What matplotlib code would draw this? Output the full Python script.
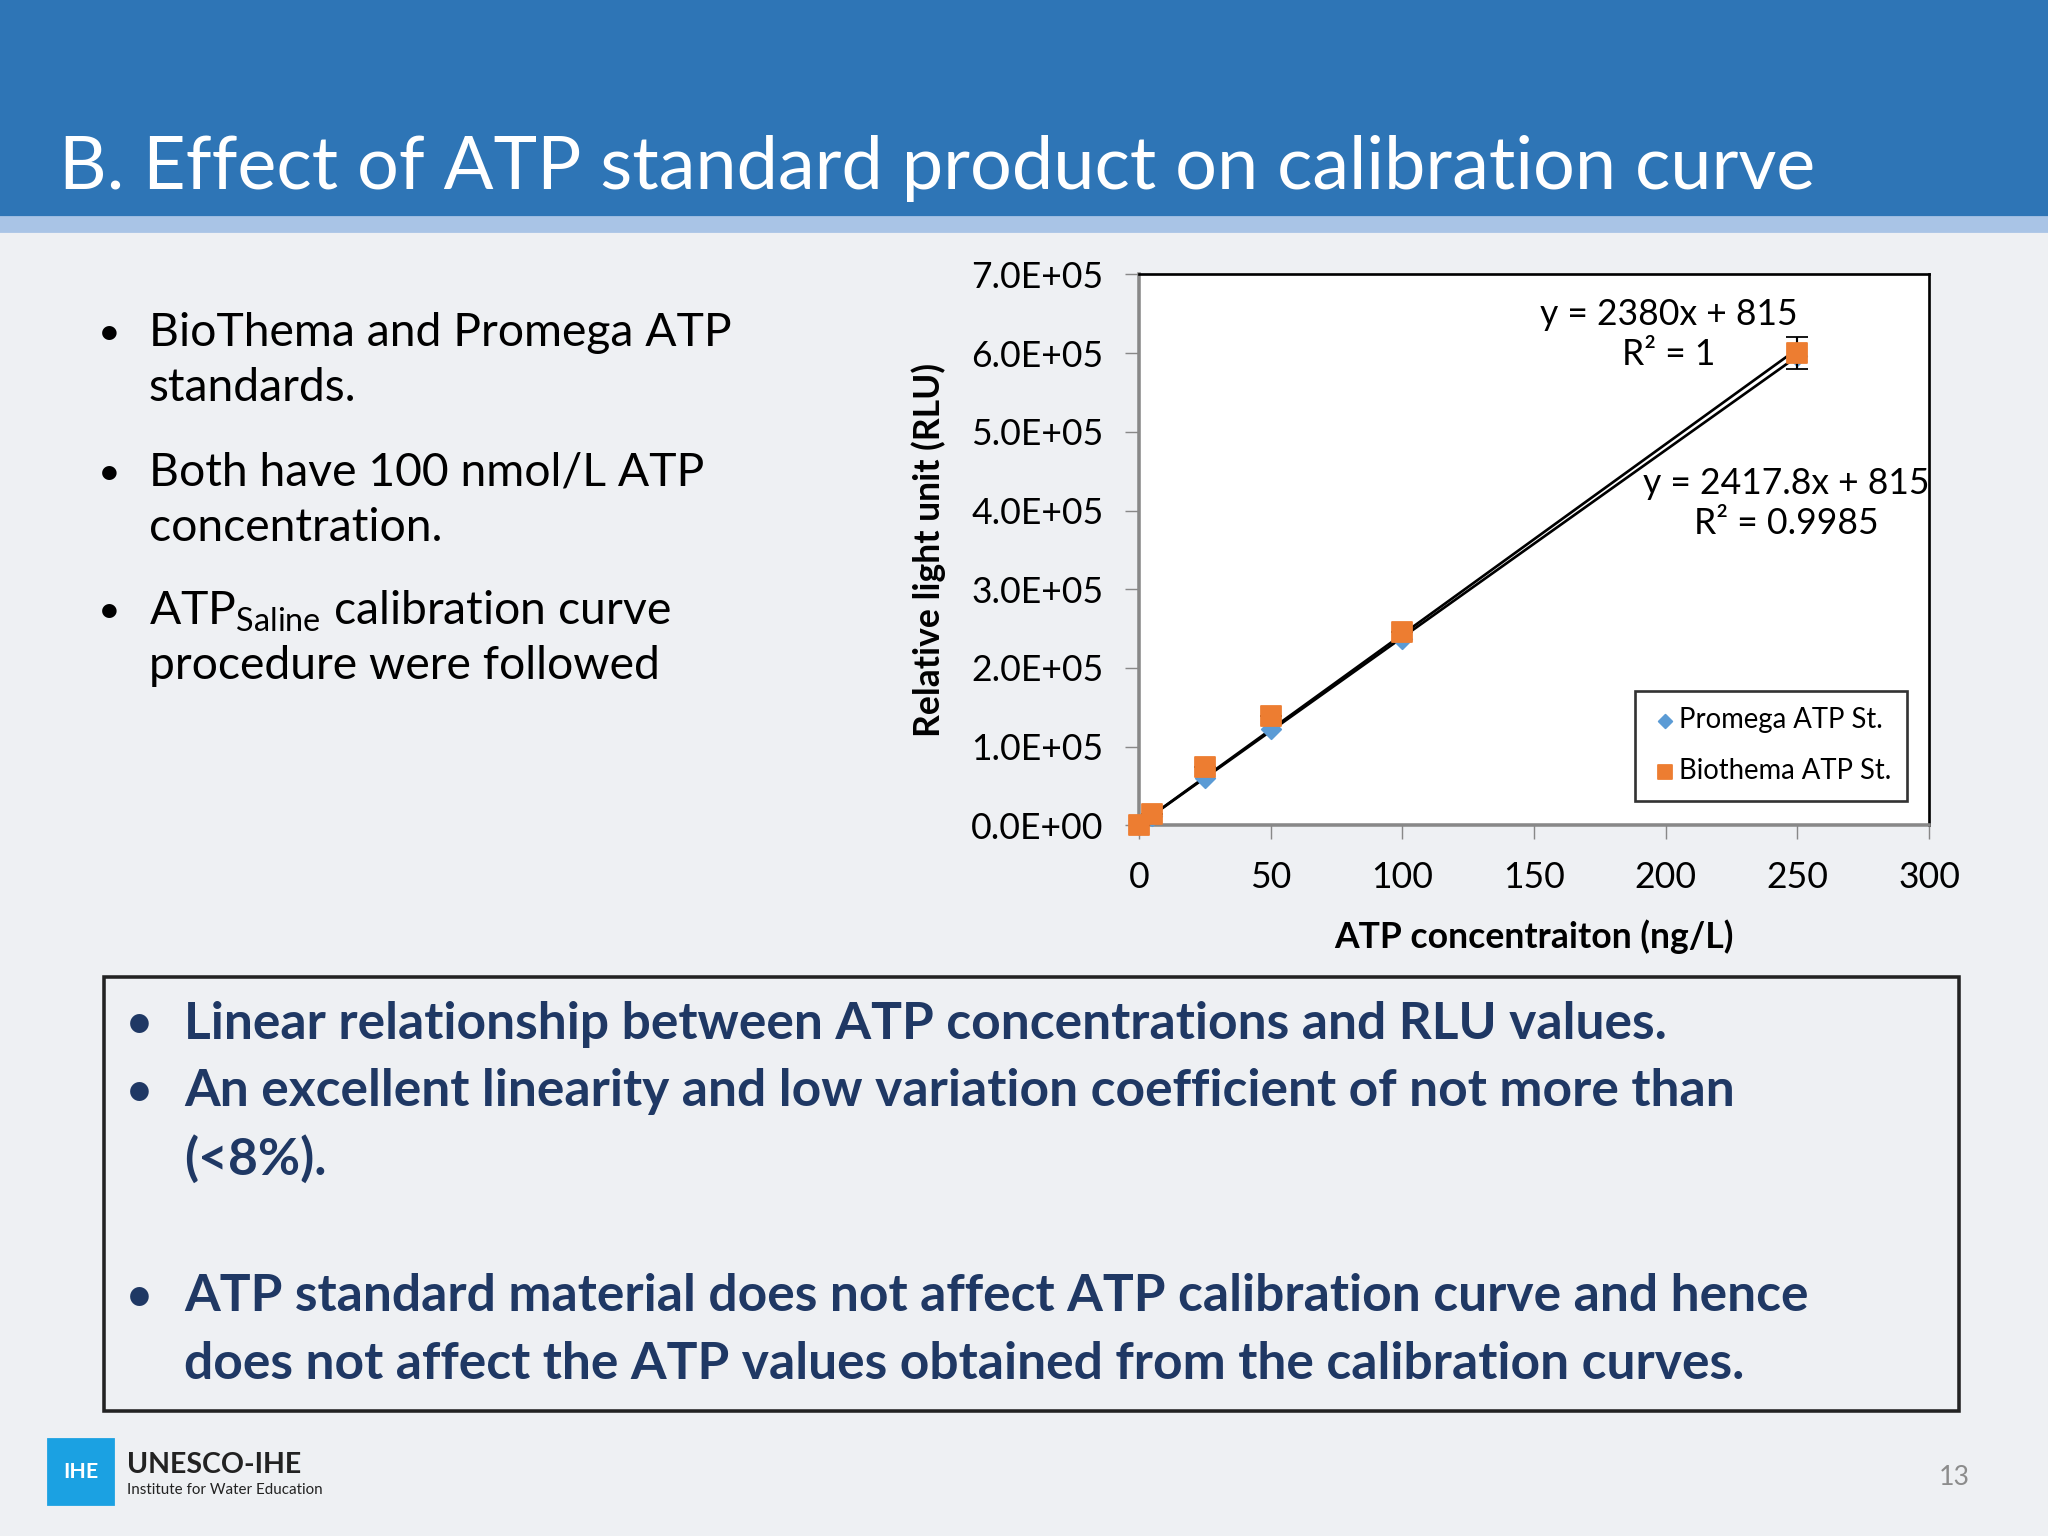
import matplotlib
matplotlib.use("Agg")
import matplotlib.pyplot as plt
from matplotlib.patches import Rectangle
import numpy as np

conc = [0, 5, 25, 50, 100, 250]
promega = [0, 12000, 60000, 123000, 237000, 596000]
biothema = [0, 15000, 74600, 139000, 246000, 600000]
biothema_err = [0, 0, 0, 0, 0, 20000]
fit_promega = (2417.8, 815)
fit_biothema = (2380, 815)
xticks = [0, 50, 100, 150, 200, 250, 300]
yticks = [0, 1e5, 2e5, 3e5, 4e5, 5e5, 6e5, 7e5]

plt.rcParams['font.family'] = ['Lato', 'DejaVu Sans']
fig = plt.figure(figsize=(16, 12), dpi=128)
fig.patch.set_facecolor('#EEF0F3')
W, H = 1568, 1176
def fx(x): return x / W
def fy(y): return 1 - y / H

fig.patches.append(Rectangle((0, fy(166)), 1, 166 / H, transform=fig.transFigure, color='#2E75B6', zorder=0))
fig.patches.append(Rectangle((0, fy(178)), 1, 12 / H, transform=fig.transFigure, color='#A9C4E6', zorder=0))
fig.text(fx(45), fy(145), 'B. Effect of ATP standard product on calibration curve', color='white',
         fontsize=41.5, va='baseline', ha='left')

FS = 26
bul = [(255, 'BioThema and Promega ATP', 297, 'standards.'),
       (362, 'Both have 100 nmol/L ATP', 404, 'concentration.')]
for y1, t1, y2, t2 in bul:
    fig.text(fx(75), fy(y1), '•', fontsize=22, va='center')
    fig.text(fx(114), fy(y1), t1, fontsize=FS, va='center')
    fig.text(fx(114), fy(y2), t2, fontsize=FS, va='center')
fig.text(fx(75), fy(468), '•', fontsize=22, va='center')
fig.text(fx(114), fy(468), r'ATP$_{\mathregular{Saline}}$ calibration curve', fontsize=FS, va='center')
fig.text(fx(114), fy(510), 'procedure were followed', fontsize=FS, va='center')

ax = fig.add_axes([fx(872), fy(632), fx(1477) - fx(872), (632 - 210) / H])
ax.set_facecolor('white')
xx = np.array([0, 250])
ax.plot(xx, fit_promega[0] * xx + fit_promega[1], color='black', lw=1.5, zorder=2)
ax.plot(xx, fit_biothema[0] * xx + fit_biothema[1], color='black', lw=1.5, zorder=2)
ax.scatter(conc, promega, marker='D', s=60, color='#5B9BD5', zorder=3, label='Promega ATP St.', clip_on=False)
ax.errorbar(conc, biothema, yerr=biothema_err, fmt='none', ecolor='black',
            elinewidth=1.2, capsize=6, zorder=4)
ax.scatter(conc, biothema, marker='s', s=130, color='#ED7D31', zorder=5, label='Biothema ATP St.', clip_on=False)
ax.set_xlim(0, 300)
ax.set_ylim(0, 7e5)
ax.set_xticks(xticks)
ax.set_yticks(yticks)
ax.set_yticklabels(['%.1E' % v for v in yticks])
ax.tick_params(labelsize=20, length=8, color='#888888', direction='out', pad=12)
for s in ['left', 'bottom']:
    ax.spines[s].set_color('#888888'); ax.spines[s].set_linewidth(2)
for s in ['top', 'right']:
    ax.spines[s].set_linewidth(1.5)
ax.set_xlabel('ATP concentraiton (ng/L)', fontsize=20, fontweight='bold', labelpad=14)
ax.set_ylabel('Relative light unit (RLU)', fontsize=20, fontweight='bold', labelpad=14)
ax.text(250, 6.7e5, 'y = 2380x + 815\nR² = 1', ha='right', va='top', fontsize=20, linespacing=1.25,
        multialignment='center')
ax.text(300, 4.55e5, 'y = 2417.8x + 815\nR² = 0.9985', ha='right', va='top', fontsize=20,
        linespacing=1.25, multialignment='center')
leg = ax.legend(loc='lower right', fontsize=15.5, frameon=True, fancybox=False, edgecolor='black',
                handletextpad=0.0, handlelength=1.0, borderpad=0.6, labelspacing=0.9,
                bbox_to_anchor=(0.99, 0.02), markerscale=0.7)
leg.get_frame().set_linewidth(1.5)

fig.patches.append(Rectangle((fx(80), fy(1080)), fx(1500) - fx(80), (1080 - 748) / H,
                             transform=fig.transFigure, fill=False, edgecolor='#222222', lw=2))
c = '#1F3864'
BF = 29
lines = [(784, True, 'Linear relationship between ATP concentrations and RLU values.'),
         (836, True, 'An excellent linearity and low variation coefficient of not more than'),
         (888, False, '(<8%).'),
         (993, True, 'ATP standard material does not affect ATP calibration curve and hence'),
         (1045, False, 'does not affect the ATP values obtained from the calibration curves.')]
for y, b, t in lines:
    if b:
        fig.text(fx(97), fy(y), '•', fontsize=24, va='center', color=c, fontweight='bold')
    fig.text(fx(141), fy(y), t, fontsize=BF, va='center', color=c, fontweight='bold')

fig.patches.append(Rectangle((fx(37), fy(1152)), 50 / W, 50 / H, transform=fig.transFigure, color='#1BA1E2'))
fig.text(fx(62), fy(1127), 'IHE', color='white', fontsize=12, ha='center', va='center', fontweight='bold')
fig.text(fx(97), fy(1122), 'UNESCO-IHE', fontsize=16, va='center', fontweight='bold', color='#222222')
fig.text(fx(97), fy(1141), 'Institute for Water Education', fontsize=8.5, va='center', color='#222222')
fig.text(fx(1508), fy(1131), '13', fontsize=15, ha='right', va='center', color='#8C8C8C')

fig.savefig('out.png', dpi=128, facecolor=fig.get_facecolor())
